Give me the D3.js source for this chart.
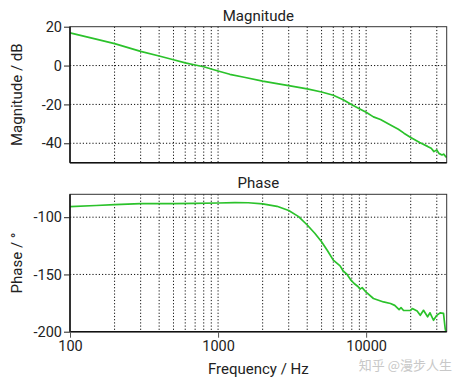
<!DOCTYPE html>
<html>
<head>
<meta charset="utf-8">
<script src="https://cdn.jsdelivr.net/npm/d3@7"></script>
<style>
  body { margin: 0; background: #fff; }
  text { font-family: Roboto, "DejaVu Sans", sans-serif; fill: #222; }
  .grid line { stroke: #111; stroke-dasharray: 1.2,2; stroke-width: 1; }
  .curve { fill: none; stroke: #2bc22b; stroke-width: 1.7; stroke-linejoin: round; }
</style>
</head>
<body>
<svg id="chart" width="463" height="385"></svg>
<script>
// Bode plot data
const magFreq = [100, 150, 200, 300, 400, 500, 600, 700, 800, 900, 1000, 1200, 1500, 2000, 2500, 3000, 4000, 5000, 6000, 7000, 8000, 9000, 10000, 11200, 12500, 14600, 16500, 18000, 20000, 23000, 26000, 27500, 28700, 30000, 31000, 32500, 33500, 34500, 35000];
const magDb = [16.8, 13.6, 11.3, 7.3, 4.9, 3.0, 1.4, 0.3, -0.6, -1.8, -2.8, -4.5, -6.0, -8.0, -9.3, -10.3, -12.0, -13.6, -15.3, -17.6, -20.2, -22.2, -24.0, -26.4, -27.8, -30.6, -32.8, -34.8, -37.0, -39.6, -41.6, -42.6, -44.3, -43.4, -45.2, -46.0, -45.6, -46.9, -47.2];

const phaseFreq = [100, 150, 200, 300, 500, 700, 1000, 1300, 1600, 2000, 2500, 3000, 3500, 4000, 4500, 5000, 5500, 6000, 6670, 7000, 7400, 7900, 8300, 8800, 9100, 9400, 10000, 11200, 13100, 14600, 15600, 16700, 17200, 17900, 20000, 20500, 22100, 23200, 24400, 26000, 27000, 28500, 30000, 31600, 33300, 34200, 34600];
const phaseDeg = [-90.7, -89.8, -89.0, -88.2, -88.2, -88.0, -87.6, -87.3, -87.4, -88.3, -90.5, -94.2, -99.5, -106.8, -114, -121.4, -129.5, -137.5, -142.5, -147, -149.7, -155, -157.9, -160.5, -162.8, -161.5, -165.5, -171, -174, -175.4, -177, -180.7, -179, -181.5, -181.3, -179.8, -182, -185.7, -181.3, -187, -183.5, -190, -185.7, -183.5, -184, -197.4, -200];

const freqDomain = [100, 35000];
const freqTicks = [100, 1000, 10000];
const freqGrid = [200, 300, 400, 500, 600, 700, 800, 900, 1000, 2000, 3000, 4000, 5000, 6000, 7000, 8000, 9000, 10000, 20000, 30000];

const magDomain = [-50, 20];
const magTicks = [-40, -20, 0, 20];
const phaseDomain = [-200, -80];
const phaseTicks = [-200, -150, -100];

const svg = d3.select("#chart");
const left = 70, right = 446.7;

const x = d3.scaleLog().domain(freqDomain).range([left, right]);

function drawPanel(cfg) {
  const y = d3.scaleLinear().domain(cfg.domain).range([cfg.bottom, cfg.top]);
  const g = svg.append("g");

  // dotted grid
  const grid = g.append("g").attr("class", "grid");
  grid.selectAll(".vg").data(freqGrid).join("line")
    .attr("x1", d => x(d)).attr("x2", d => x(d))
    .attr("y1", cfg.top).attr("y2", cfg.bottom);
  grid.selectAll(".hg").data(cfg.ticks.filter(t => t > cfg.domain[0] && t < cfg.domain[1])).join("line")
    .attr("x1", left).attr("x2", right)
    .attr("y1", d => y(d)).attr("y2", d => y(d));

  // curve
  const line = d3.line().x(d => x(d[0])).y(d => y(d[1]));
  g.append("path").attr("class", "curve")
    .attr("d", line(d3.zip(cfg.freq, cfg.vals)));

  // frame
  g.append("rect").attr("x", left).attr("y", cfg.top)
    .attr("width", right - left).attr("height", cfg.bottom - cfg.top)
    .attr("fill", "none").attr("stroke", "#333").attr("stroke-width", 1);
  g.append("line").attr("x1", left).attr("x2", right).attr("y1", cfg.bottom).attr("y2", cfg.bottom)
    .attr("stroke", "#111").attr("stroke-width", 1.5);
  g.append("line").attr("x1", left).attr("x2", left).attr("y1", cfg.top).attr("y2", cfg.bottom)
    .attr("stroke", "#111").attr("stroke-width", 1.5);

  // y axis
  const ya = g.append("g").attr("transform", `translate(${left},0)`)
    .call(d3.axisLeft(y).tickValues(cfg.ticks).tickSize(6).tickPadding(2).tickFormat(d3.format("d")));
  ya.select(".domain").remove();
  ya.selectAll("text").style("font-size", "14.5px").attr("fill", "#222")
    .text(d => String(d).replace("-", "-"));
  ya.selectAll("line").attr("stroke", "#222");

  // title
  g.append("text").attr("x", (left + right) / 2).attr("y", cfg.top - 6)
    .attr("text-anchor", "middle").style("font-size", "15px").text(cfg.title);

  // y label
  g.append("text")
    .attr("transform", `translate(22,${(cfg.top + cfg.bottom) / 2}) rotate(-90)`)
    .attr("text-anchor", "middle").style("font-size", "15px").text(cfg.label);

  return y;
}

drawPanel({ top: 26.7, bottom: 162.7, domain: magDomain, ticks: magTicks,
  freq: magFreq, vals: magDb, title: "Magnitude", label: "Magnitude / dB" });

drawPanel({ top: 194.3, bottom: 331.7, domain: phaseDomain, ticks: phaseTicks,
  freq: phaseFreq, vals: phaseDeg, title: "Phase", label: "Phase / °" });

// x axis on the lower panel
const xa = svg.append("g").attr("transform", "translate(0,331.7)")
  .call(d3.axisBottom(x).tickValues(freqTicks).tickSize(6).tickPadding(3).tickFormat(d3.format("d")));
xa.select(".domain").remove();
xa.selectAll("line").attr("stroke", "#555");
xa.selectAll("text").style("font-size", "14.5px").attr("fill", "#222");

svg.append("text").attr("x", (left + right) / 2).attr("y", 374)
  .attr("text-anchor", "middle").style("font-size", "15px").text("Frequency / Hz");

// watermark
svg.append("text").attr("x", 452).attr("y", 370).attr("text-anchor", "end")
  .style("font-family", "'Noto Sans CJK SC', sans-serif").style("font-size", "13px")
  .attr("fill", "#c8c8c8").style("fill", "#c8c8c8").text("知乎 @漫步人生");
</script>
</body>
</html>
